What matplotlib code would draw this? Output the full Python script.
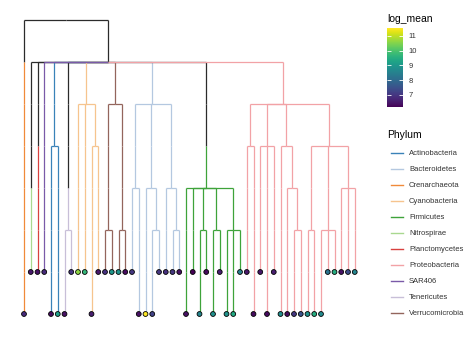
import matplotlib
matplotlib.use("Agg")
import matplotlib.pyplot as plt
from matplotlib.lines import Line2D
from matplotlib.colors import Normalize
from matplotlib.colorbar import ColorbarBase

plt.rcParams['font.family'] = ['Liberation Sans', 'DejaVu Sans']

# legend order of the phyla and their edge colours
phyla = ["Actinobacteria", "Bacteroidetes", "Crenarchaeota", "Cyanobacteria",
         "Firmicutes", "Nitrospirae", "Planctomycetes", "Proteobacteria",
         "SAR406", "Tenericutes", "Verrucomicrobia"]
phylum_colors = ["#3a82b8", "#b4c8e0", "#f08a3a", "#f6c48e",
                 "#3ea33a", "#a9d88f", "#d8413f", "#f2a2a6",
                 "#7a5aa8", "#c8bfd8", "#93655c"]
na_color = "#2b2b2b"

# edges above this rank are uncoloured (NA) for some phyla
first_colored_rank = {"Nitrospirae": 5, "Planctomycetes": 4,
                      "Tenericutes": 5, "Firmicutes": 4}
# these phyla are drawn last (they sit on top where branches overlap)
draw_last = ["SAR406", "Proteobacteria"]

# tips, in leaf order: kingdom, phylum, branch letters for class..genus/species
tip_kingdom = ["Archaea"] + ["Bacteria"] * 49
tip_phylum = (["Crenarchaeota", "Nitrospirae", "Planctomycetes", "SAR406"]
              + ["Actinobacteria"] * 2 + ["Tenericutes"] * 2
              + ["Cyanobacteria"] * 4 + ["Verrucomicrobia"] * 4
              + ["Bacteroidetes"] * 8 + ["Firmicutes"] * 9
              + ["Proteobacteria"] * 17)
tip_path = ["aaaaa", "aaaa", "aaaa", "aaaa",
            "aaaaa", "abaaa",
            "aaaaa", "aaab",
            "aaaa", "baaa", "caaaa", "cbaa",
            "aaaa", "aaab", "baaa", "baab",
            "aaaa", "aabaa", "baaaa", "babaa", "babb", "caaa", "caba", "cabb",
            "aaaaa", "aaba", "aacaa", "aacb", "aadaa", "aadb", "aaeaa", "aaeba", "aaec",
            "aaaa", "abaaa", "baaa", "bbaaa", "bcaa", "caaaa", "cbaaa", "cbbaa",
            "cbbba", "daaaa", "daaba", "dbaaa", "dbab", "dbac", "dcaa", "dcba", "dcca"]
tip_log_mean = [6.8, 6.5, 6.4, 6.8, 6.3, 9.2, 6.4, 7.0, 10.6, 9.7,
                6.6, 6.5, 6.9, 9.0, 8.9, 6.3, 7.0, 6.4, 11.52, 7.2,
                7.0, 6.9, 7.0, 6.4, 6.4, 6.15, 8.6, 6.3, 8.8, 6.6,
                8.9, 9.4, 8.5, 6.5, 6.3, 6.5, 6.3, 6.6, 8.8, 6.3,
                7.0, 7.5, 8.9, 9.5, 8.7, 8.2, 9.5, 6.4, 7.4, 8.6]

colorbar_ticks = [7, 8, 9, 10, 11]

# ---------------------------
# build the tree from the lineages
# ---------------------------
children = {(): []}
tip_keys = []
for i in range(len(tip_path)):
    lineage = (tip_kingdom[i], tip_phylum[i]) + tuple(tip_path[i])
    tip_keys.append(lineage)
    for k in range(1, len(lineage) + 1):
        key = lineage[:k]
        if key not in children:
            children[key] = []
            children[lineage[:k - 1]].append(key)

xpos = {key: float(i) for i, key in enumerate(tip_keys)}
for key in sorted(children, key=len, reverse=True):
    if children[key]:
        xpos[key] = sum(xpos[c] for c in children[key]) / len(children[key])


def edge_color(key):
    if len(key) < 2:
        return na_color
    ph = key[1]
    if len(key) < first_colored_rank.get(ph, 2):
        return na_color
    return phylum_colors[phyla.index(ph)]


edges = [k for k in children if k != ()]
edges.sort(key=lambda k: (len(k) > 1 and k[1] in draw_last))

# ---------------------------
# figure
# ---------------------------
fig = plt.figure(figsize=(4.74, 3.38), dpi=100)
ax = fig.add_axes([20.625 / 474, (338 - 326.6) / 338, 337.5 / 474, 319.2 / 338])
ax.set_xlim(-0.5, 49.5)
ax.set_ylim(7.3, -0.3)
ax.axis('off')

lw = 0.9
for key in edges:
    parent = key[:-1]
    c = edge_color(key)
    px, x = xpos[parent], xpos[key]
    py, y = len(parent), len(key)
    ax.plot([px, x], [py, py], color=c, lw=lw, solid_capstyle='butt', zorder=2)
    ax.plot([x, x], [py, y], color=c, lw=lw, solid_capstyle='butt', zorder=2)

norm = Normalize(vmin=min(tip_log_mean), vmax=max(tip_log_mean))
ax.scatter([xpos[k] for k in tip_keys], [len(k) for k in tip_keys],
           c=tip_log_mean, cmap='viridis', norm=norm, s=12,
           edgecolors='black', linewidths=0.6, zorder=3)

# colour bar legend
fig.text(387 / 474, 1 - 18.5 / 338, "log_mean", fontsize=7.5, va='center', ha='left')
cax = fig.add_axes([387 / 474, (338 - 107.3) / 338, 16 / 474, 79 / 338])
cb = ColorbarBase(cax, cmap=plt.get_cmap('viridis'), norm=norm, orientation='vertical')
cb.outline.set_visible(False)
cb.set_ticks(colorbar_ticks)
cax.tick_params(axis='y', direction='in', length=3, width=0.6, color='white',
                left=True, right=True, labelsize=5.5, labelcolor='#333333', pad=4)

# phylum legend
fig.text(387 / 474, 1 - 135 / 338, "Phylum", fontsize=7.5, va='center', ha='left')
for i, (name, col) in enumerate(zip(phyla, phylum_colors)):
    yy = 1 - (153.3 + 16 * i) / 338
    fig.add_artist(Line2D([391 / 474, 403 / 474], [yy, yy], color=col, lw=1.0,
                          transform=fig.transFigure))
    fig.text(409 / 474, yy, name, fontsize=5.5, va='center', ha='left', color='#333333')

fig.savefig("out.png", dpi=100)
